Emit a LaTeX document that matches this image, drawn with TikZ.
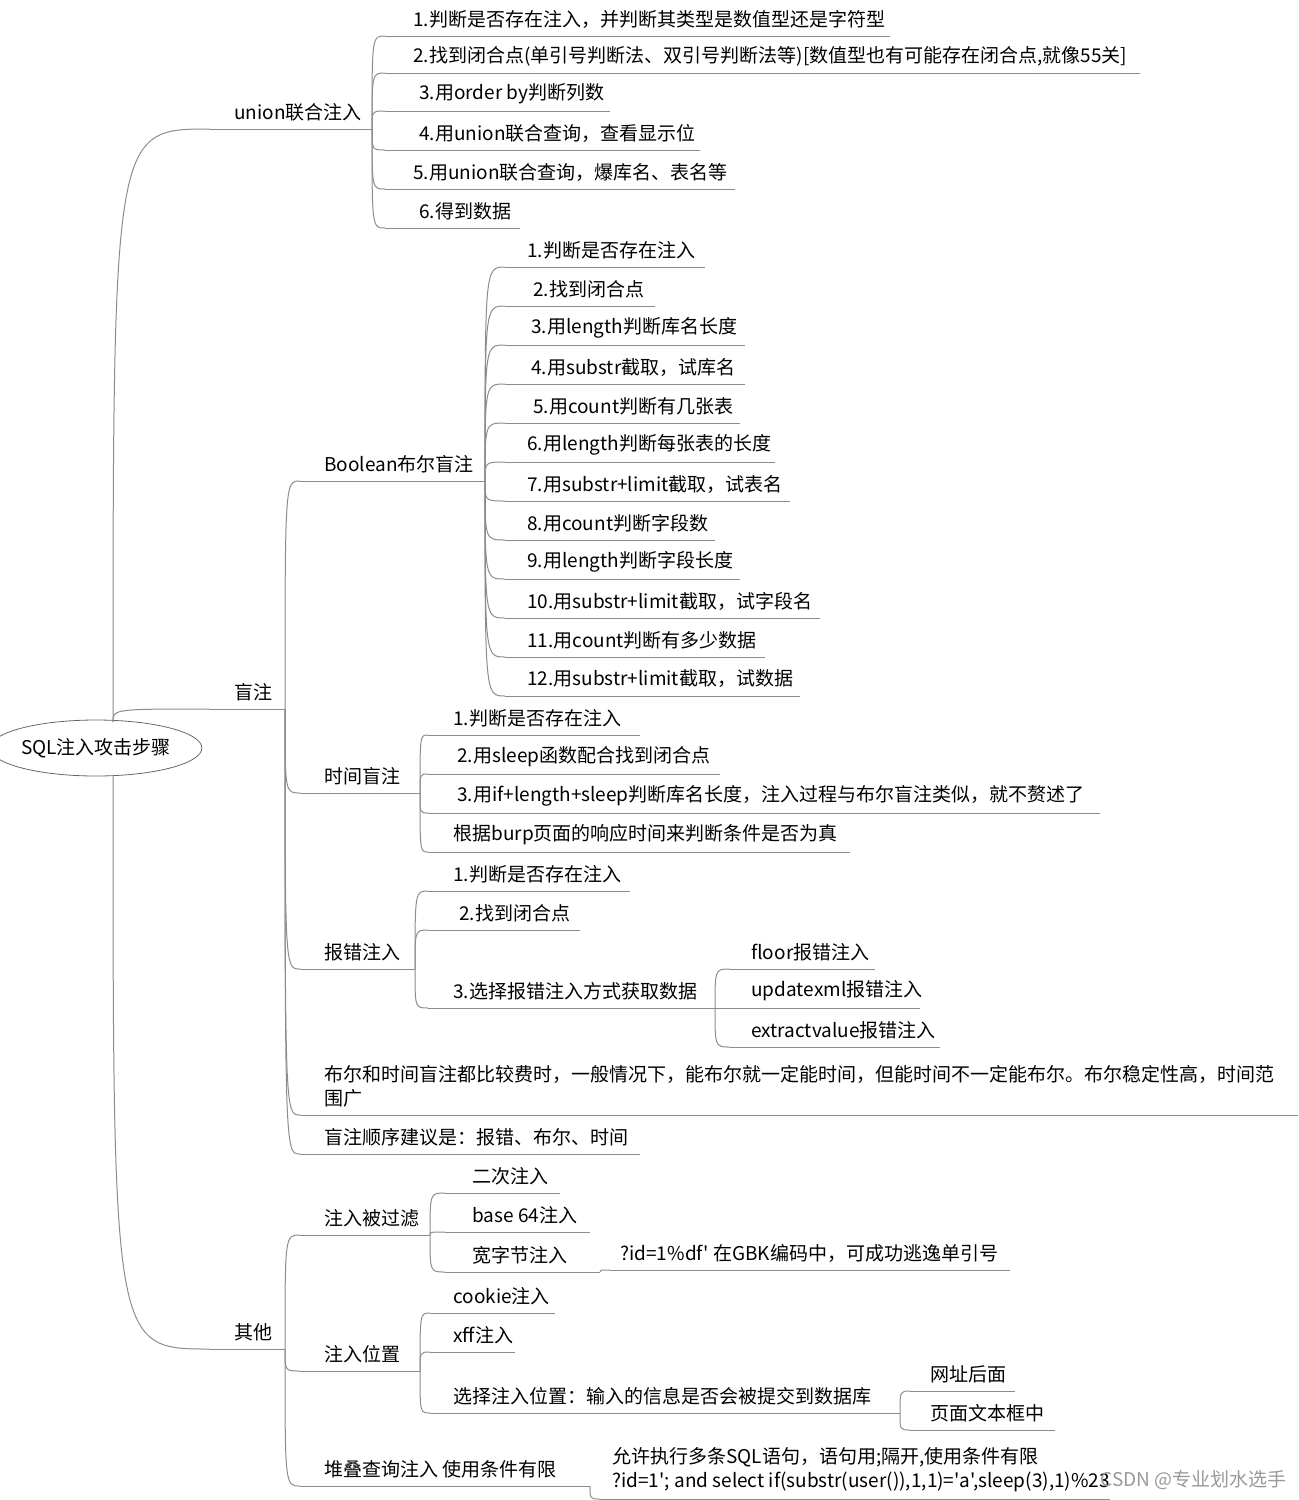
\documentclass[tikz,border=0pt]{standalone}
\usepackage{fontspec}
\usetikzlibrary{shapes.geometric}
\setmainfont[Ligatures=TeXOff]{Noto Sans CJK SC}
\begin{document}
\begin{tikzpicture}[x=0.5pt,y=-0.5pt,
  lab/.style={anchor=west,inner sep=0pt,font=\fontsize{9.5pt}{12pt}\selectfont,text=black},
  ln/.style={draw=black!45,line width=0.5pt}]
\useasboundingbox (0,0) rectangle (1298,1500);
\newcommand\mmitem[6]{\node[lab] (#1) at (#2,#5) {#6};
  \coordinate (#1s) at (#3,#5+17); \coordinate (#1e) at (#4,#5+17);
  \draw[ln] (#1s) -- (#1e);}
\newcommand\mmlink[2]{\draw[ln] (#1) .. controls (#1 |- #2) .. (#2);}
% root
\node[draw=black!60,ellipse,minimum width=95pt,minimum height=28pt,inner sep=0pt,font=\fontsize{9.5pt}{12pt}\selectfont] (root) at (96,748) {SQL注入攻击步骤};
\coordinate (rootU) at (113,722); \coordinate (rootD) at (113,775);
% level 1
\mmitem{u}{234}{210}{372}{112}{union联合注入}
\mmitem{m}{234}{210}{285}{692}{盲注}
\mmitem{q}{234}{210}{285}{1332}{其他}
\mmlink{rootU}{us} \mmlink{rootU}{ms} \mmlink{rootD}{qs}
% union children
\mmitem{u1}{413}{385}{890}{19}{1.判断是否存在注入，并判断其类型是数值型还是字符型}
\mmitem{u2}{413}{385}{1140}{56}{2.找到闭合点(单引号判断法、双引号判断法等)[数值型也有可能存在闭合点,就像55关]}
\mmitem{u3}{419}{385}{610}{94}{3.用order by判断列数}
\mmitem{u4}{419}{385}{700}{133}{4.用union联合查询，查看显示位}
\mmitem{u5}{413}{385}{735}{172}{5.用union联合查询，爆库名、表名等}
\mmitem{u6}{419}{385}{520}{211}{6.得到数据}
\foreach \i in {1,...,6} {\mmlink{ue}{u\i s}}
% blind
\mmitem{b}{324}{300}{485}{464}{Boolean布尔盲注}
\mmitem{t}{324}{300}{420}{776}{时间盲注}
\mmitem{r}{324}{300}{415}{952}{报错注入}
\node[lab,align=left] (lt) at (324,1086) {布尔和时间盲注都比较费时，一般情况下，能布尔就一定能时间，但能时间不一定能布尔。布尔稳定性高，时间范\\围广};
\coordinate (lts) at (300,1115); \coordinate (lte) at (1298,1115); \draw[ln] (lts) -- (lte);
\mmitem{o}{324}{300}{640}{1137}{盲注顺序建议是：报错、布尔、时间}
\foreach \c in {b,t,r,lt,o} {\mmlink{me}{\c s}}
% boolean children
\mmitem{b1}{527}{505}{705}{250}{1.判断是否存在注入}
\mmitem{b2}{533}{505}{655}{289}{2.找到闭合点}
\mmitem{b3}{531}{505}{745}{328}{3.用length判断库名长度}
\mmitem{b4}{531}{505}{745}{367}{4.用substr截取，试库名}
\mmitem{b5}{533}{505}{740}{406}{5.用count判断有几张表}
\mmitem{b6}{527}{505}{775}{445}{6.用length判断每张表的长度}
\mmitem{b7}{527}{505}{790}{484}{7.用substr+limit截取，试表名}
\mmitem{b8}{527}{505}{715}{523}{8.用count判断字段数}
\mmitem{b9}{527}{505}{740}{562}{9.用length判断字段长度}
\mmitem{b10}{527}{505}{820}{601}{10.用substr+limit截取，试字段名}
\mmitem{b11}{527}{505}{765}{640}{11.用count判断有多少数据}
\mmitem{b12}{527}{505}{800}{679}{12.用substr+limit截取，试数据}
\foreach \i in {1,...,12} {\mmlink{be}{b\i s}}
% time children
\mmitem{t1}{453}{428}{640}{718}{1.判断是否存在注入}
\mmitem{t2}{457}{428}{720}{757}{2.用sleep函数配合找到闭合点}
\mmitem{t3}{457}{428}{1100}{796}{3.用if+length+sleep判断库名长度，注入过程与布尔盲注类似，就不赘述了}
\mmitem{t4}{453}{428}{850}{835}{根据burp页面的响应时间来判断条件是否为真}
\foreach \i in {1,...,4} {\mmlink{te}{t\i s}}
% error children
\mmitem{r1}{453}{428}{630}{874}{1.判断是否存在注入}
\mmitem{r2}{459}{428}{580}{913}{2.找到闭合点}
\mmitem{r3}{453}{428}{715}{991}{3.选择报错注入方式获取数据}
\foreach \i in {1,2,3} {\mmlink{re}{r\i s}}
\mmitem{r31}{751}{730}{875}{952}{floor报错注入}
\mmitem{r32}{751}{730}{920}{991}{updatexml报错注入}
\mmitem{r33}{751}{730}{940}{1030}{extractvalue报错注入}
\foreach \i in {1,2,3} {\mmlink{r3e}{r3\i s}}
% other
\mmitem{f}{324}{300}{430}{1218}{注入被过滤}
\mmitem{p}{324}{300}{420}{1354}{注入位置}
\mmitem{s}{324}{300}{590}{1469}{堆叠查询注入 使用条件有限}
\foreach \c in {f,p,s} {\mmlink{qe}{\c s}}
\mmitem{f1}{472}{445}{560}{1176}{二次注入}
\mmitem{f2}{472}{445}{590}{1215}{base 64注入}
\mmitem{f3}{472}{445}{600}{1255}{宽字节注入}
\foreach \i in {1,2,3} {\mmlink{fe}{f\i s}}
\mmitem{f31}{620}{610}{1010}{1253}{?id=1\%df' 在GBK编码中，可成功逃逸单引号}
\mmlink{f3e}{f31s}
\mmitem{p1}{453}{430}{555}{1296}{cookie注入}
\mmitem{p2}{453}{430}{515}{1335}{xff注入}
\mmitem{p3}{453}{430}{900}{1396}{选择注入位置：输入的信息是否会被提交到数据库}
\foreach \i in {1,2,3} {\mmlink{pe}{p\i s}}
\mmitem{p31}{930}{910}{1015}{1374}{网址后面}
\mmitem{p32}{930}{910}{1055}{1413}{页面文本框中}
\foreach \i in {1,2} {\mmlink{p3e}{p3\i s}}
\node[lab,align=left] (s1) at (612,1470) {允许执行多条SQL语句，语句用;隔开,使用条件有限\\?id=1'; and select if(substr(user()),1,1)='a',sleep(3),1)\%23};
\coordinate (s1s) at (600,1499); \coordinate (s1e) at (1110,1499); \draw[ln] (s1s) -- (s1e);
\mmlink{se}{s1s}
\node[lab,text=black!40] (wm) at (1100,1480) {CSDN @专业划水选手};
\end{tikzpicture}
\end{document}
